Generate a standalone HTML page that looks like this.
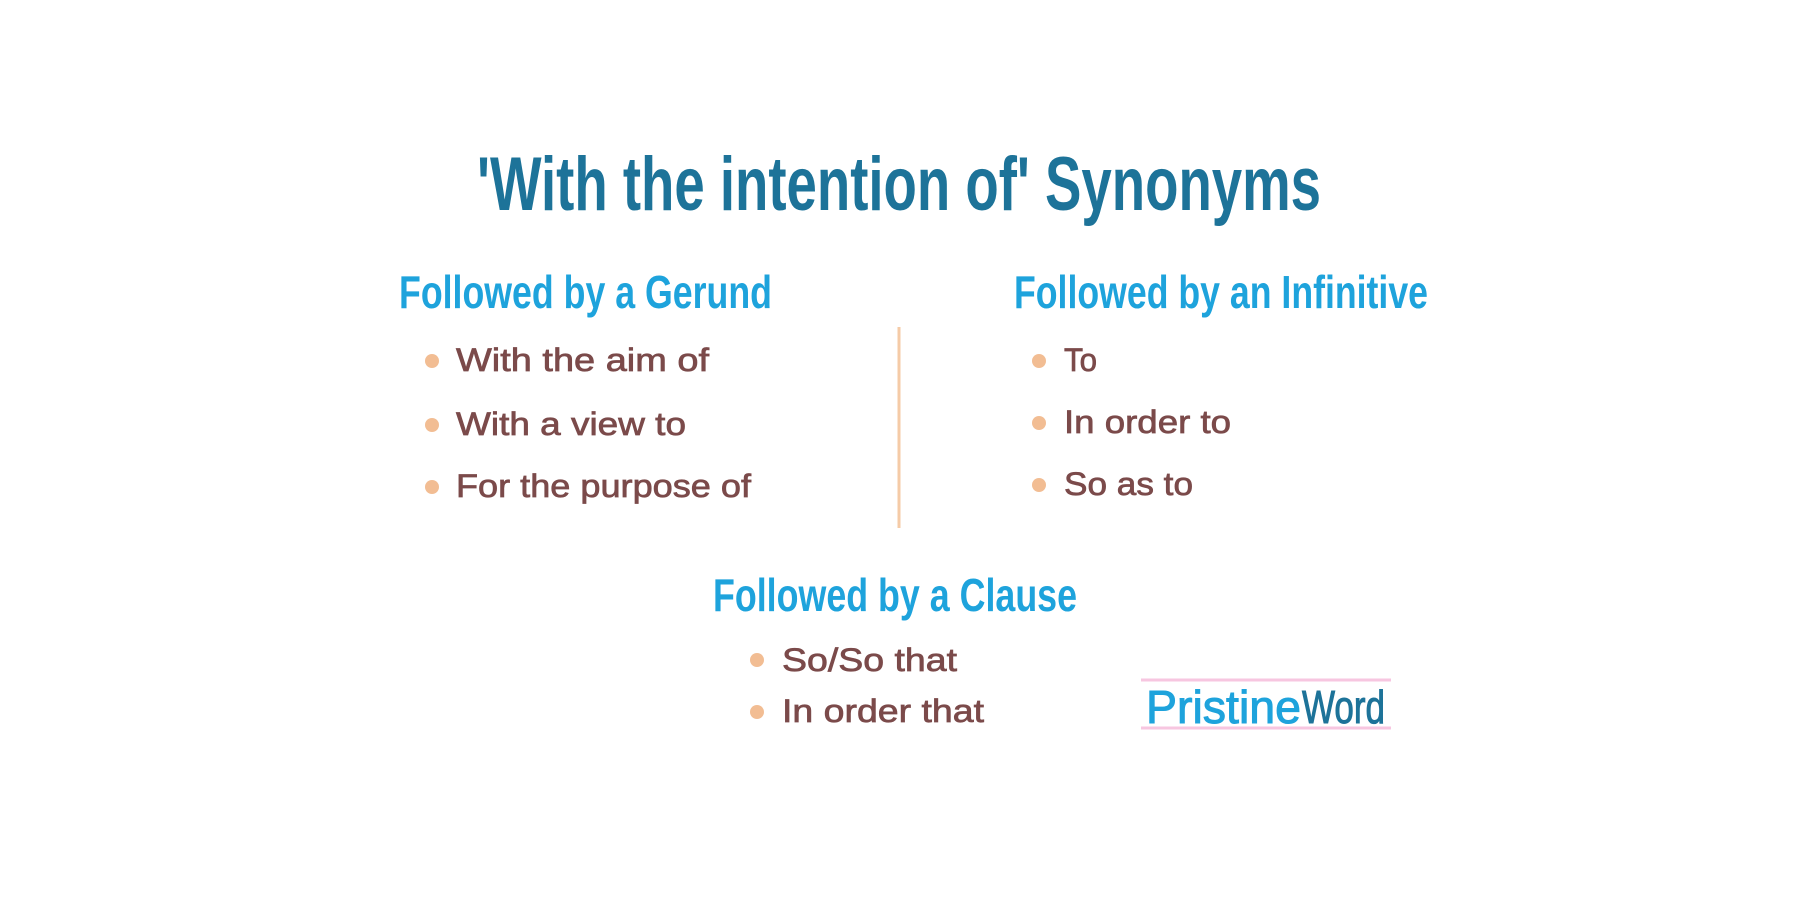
<!DOCTYPE html>
<html><head><meta charset="utf-8"><style>html,body{margin:0;padding:0;background:#fff}svg{display:block}</style></head>
<body>
<svg width="1801" height="901" viewBox="0 0 1801 901" xmlns="http://www.w3.org/2000/svg">
<rect width="1801" height="901" fill="#fff"/>
<g font-family="'Liberation Sans Narrow','Liberation Sans',sans-serif" font-weight="bold">
<text x="477" y="210" font-size="76" fill="#1d7399" textLength="844" lengthAdjust="spacingAndGlyphs">'With the intention of' Synonyms</text>
<text x="399" y="308" font-size="46" fill="#1ea3dc" textLength="373" lengthAdjust="spacingAndGlyphs">Followed by a Gerund</text>
<text x="1014" y="308" font-size="46" fill="#1ea3dc" textLength="414" lengthAdjust="spacingAndGlyphs">Followed by an Infinitive</text>
<text x="713" y="611" font-size="46" fill="#1ea3dc" textLength="364" lengthAdjust="spacingAndGlyphs">Followed by a Clause</text>
</g>
<line x1="899" y1="327" x2="899" y2="528" stroke="#f5cba7" stroke-width="3"/>
<g fill="#f2bd93">
<circle cx="432" cy="361" r="7"/><circle cx="432" cy="425" r="7"/><circle cx="432" cy="487" r="7"/>
<circle cx="1039" cy="361" r="7"/><circle cx="1039" cy="423" r="7"/><circle cx="1039" cy="485" r="7"/>
<circle cx="757" cy="660" r="7"/><circle cx="757" cy="712" r="7"/>
</g>
<g font-family="'Liberation Sans',sans-serif" font-size="32" fill="#7b4a4a" stroke="#7b4a4a" stroke-width="0.7">
<text x="456" y="371" textLength="253" lengthAdjust="spacingAndGlyphs">With the aim of</text>
<text x="456" y="435" textLength="230" lengthAdjust="spacingAndGlyphs">With a view to</text>
<text x="456" y="497" textLength="295" lengthAdjust="spacingAndGlyphs">For the purpose of</text>
<text x="1064" y="371" textLength="33" lengthAdjust="spacingAndGlyphs">To</text>
<text x="1064" y="433" textLength="167" lengthAdjust="spacingAndGlyphs">In order to</text>
<text x="1064" y="495" textLength="129" lengthAdjust="spacingAndGlyphs">So as to</text>
<text x="782" y="671" textLength="175" lengthAdjust="spacingAndGlyphs">So/So that</text>
<text x="782" y="722" textLength="202" lengthAdjust="spacingAndGlyphs">In order that</text>
</g>
<line x1="1141" y1="680" x2="1391" y2="680" stroke="#f7c6e0" stroke-width="3"/>
<line x1="1141" y1="728" x2="1391" y2="728" stroke="#f7c6e0" stroke-width="3"/>
<g font-family="'Liberation Sans Narrow','Liberation Sans',sans-serif" font-size="46">
<text x="1146" y="723" fill="#1ea3dc" stroke="#1ea3dc" stroke-width="1" textLength="155" lengthAdjust="spacingAndGlyphs">Pristine</text>
<text x="1302" y="723" fill="#1d7399" stroke="#1d7399" stroke-width="1" textLength="83" lengthAdjust="spacingAndGlyphs">Word</text>
</g>
</svg>
</body></html>
